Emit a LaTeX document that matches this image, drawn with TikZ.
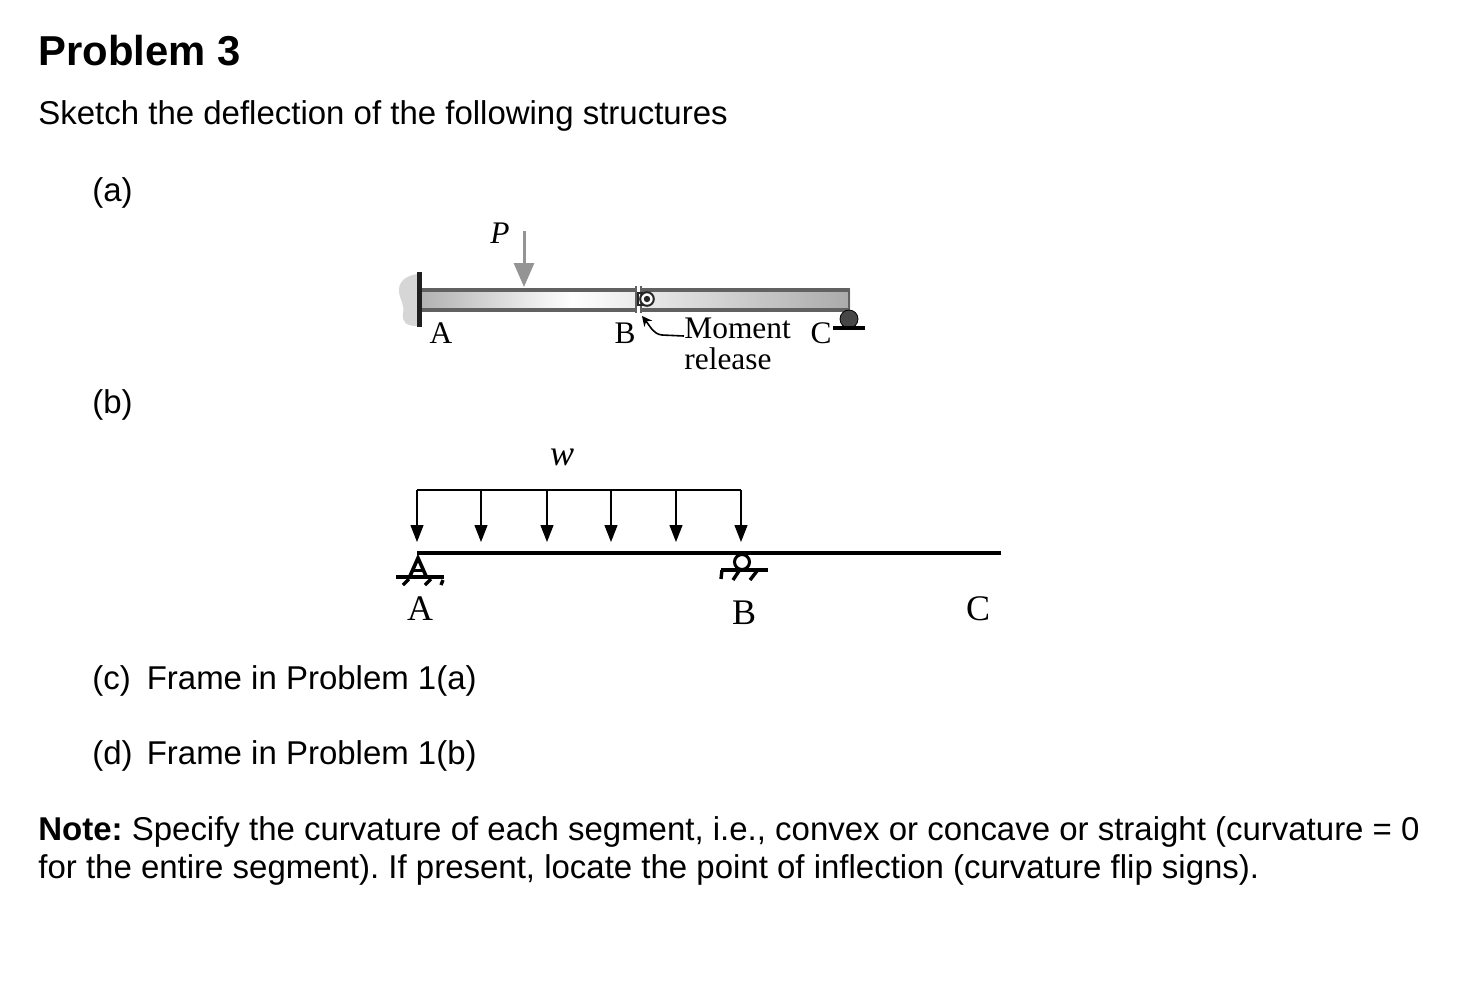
\documentclass[tikz,border=0pt]{standalone}
\usepackage{fontspec}
\setmainfont{Liberation Sans}
\newfontfamily\timesfont{Liberation Serif}
\usetikzlibrary{arrows.meta}
\frenchspacing
\tikzstyle{heading} = [anchor=base west, inner sep=0, font=\fontsize{20.9}{24}\selectfont\bfseries]
\tikzstyle{body} = [anchor=base west, inner sep=0, font=\fontsize{16.49}{20}\selectfont]
\tikzstyle{tag} = [inner sep=0, font=\timesfont\fontsize{18}{21}\selectfont]
\tikzstyle{smalltag} = [inner sep=0, font=\timesfont\fontsize{15.7}{18}\selectfont]
\tikzstyle{loadline} = [draw, line width=0.6pt, -{Triangle[length=8.5pt,width=6.5pt]}]
\tikzstyle{hatch} = [draw, line width=1.7pt]
\tikzstyle{stripe} = [draw=black!62, line width=1.7pt]
\begin{document}
\begin{tikzpicture}[x=0.5pt, y=-0.5pt]
	  \useasboundingbox (0,0) rectangle (1478,998);
	  % Text
	  \node [heading] (title) at (38,65) {Problem 3};
	  \node [body] (intro) at (38,124) {Sketch the deflection of the following structures};
	  \node [body] (parta) at (92,201) {(a)};
	  \node [body] (partb) at (92,413) {(b)};
	  \node [body] (partc) at (92,689) {\makebox[27.2pt][l]{(c)}Frame in Problem 1(a)};
	  \node [body] (partd) at (92,764) {\makebox[27.2pt][l]{(d)}Frame in Problem 1(b)};
	  \node [body] (notea) at (38,840) {\textbf{Note:} Specify the curvature of each segment, i.e., convex or concave or straight (curvature = 0};
	  \node [body] (noteb) at (38,878) {for the entire segment). If present, locate the point of inflection (curvature flip signs).};
	  % Beam (a)
	  \fill [black!16] (417,274) .. controls (405,276) and (398,282) .. (399,292) .. controls (400,300) and (405,305) .. (403,314) .. controls (402,322) and (406,326) .. (417,326) -- cycle;
	  \path [left color=black!30, right color=white] (422,290) rectangle (572,310);
	  \path [left color=white, right color=black!33] (572,290) rectangle (850,310);
	  \draw [stripe] (422,290) -- (850,290);
	  \draw [stripe] (422,310) -- (850,310);
	  \draw [black!62, line width=1.2pt] (849,288) -- (849,311);
	  \fill [black!88] (417,272) rectangle (422,327);
	  % Moment release
	  \fill [white] (636,286) rectangle (642,313);
	  \draw [black!62, line width=0.8pt] (636,286) -- (636,313);
	  \draw [black!62, line width=0.8pt] (641,286) -- (641,313);
	  \draw [black!85, line width=0.7pt] (638,293) rectangle (646,305);
	  \node [circle, draw=black!85, fill=white, line width=1pt, minimum size=6.8pt, inner sep=0] (hinge) at (647,299) {};
	  \fill [black!85] (hinge) circle (1.6pt);
	  % Support C
	  \node [circle, fill=black!72, draw=black, line width=0.4pt, minimum size=9pt, inner sep=0] (rollerC) at (849,319) {};
	  \draw [black, line width=1.7pt] (833,328) -- (865,328);
	  % Load P
	  \coordinate (Ptop) at (524,231);
	  \coordinate (Pend) at (524,287);
	  \path [draw=black!42, line width=1.5pt, -{Triangle[length=12pt,width=10pt]}] (Ptop) -- (Pend);
	  \node [smalltag] (P) at (500,233) {\itshape P};
	  % Labels (a)
	  \node [smalltag] (Aa) at (441,333) {A};
	  \node [smalltag] (Ba) at (625,333) {B};
	  \node [smalltag] (Ca) at (821,333) {C};
	  \node [smalltag, anchor=base west] (moment) at (684,338) {Moment};
	  \node [smalltag, anchor=base west] (release) at (684,369) {release};
	  \coordinate (releaseTip) at (642,316);
	  \draw [line width=0.8pt, -{Stealth[length=5pt,width=5pt]}] (moment.west |- 0,336) -- (662,335) .. controls (653,334) and (650,326) .. (releaseTip);
	  % Beam (b)
	  \coordinate (loadL) at (417,490);
	  \coordinate (loadR) at (741,490);
	  \draw [line width=0.6pt] (loadL) -- (loadR);
	  \node [tag] (w) at (562,457) {\itshape w};
	  \coordinate (t1) at (417,490);
	  \coordinate (t2) at (481,490);
	  \coordinate (t3) at (547,490);
	  \coordinate (t4) at (611,490);
	  \coordinate (t5) at (676,490);
	  \coordinate (t6) at (741,490);
	  \coordinate (e1) at (417,542);
	  \coordinate (e2) at (481,542);
	  \coordinate (e3) at (547,542);
	  \coordinate (e4) at (611,542);
	  \coordinate (e5) at (676,542);
	  \coordinate (e6) at (741,542);
	  \path [loadline] (t1) -- (e1);
	  \path [loadline] (t2) -- (e2);
	  \path [loadline] (t3) -- (e3);
	  \path [loadline] (t4) -- (e4);
	  \path [loadline] (t5) -- (e5);
	  \path [loadline] (t6) -- (e6);
	  \coordinate (beamL) at (417,553);
	  \coordinate (beamR) at (1001,553);
	  \draw [line width=2.1pt] (beamL) -- (beamR);
	  % Support A
	  \draw [line width=1.8pt, line join=miter] (410,576) -- (418,558) -- (426,576);
	  \draw [line width=1.5pt] (412,570) -- (424,570);
	  \draw [line width=2pt] (396,577) -- (444,577);
	  \draw [hatch] (409,579) -- (403,585);
	  \draw [hatch] (431,579) -- (425,585);
	  \draw [hatch] (443,580) -- (441,585);
	  % Support B
	  \node [circle, draw, line width=1.5pt, minimum size=7.5pt, inner sep=0] (rollerB) at (742,562) {};
	  \draw [line width=1.7pt] (721,570) -- (768,570);
	  \draw [hatch] (722,570) -- (721,579);
	  \draw [hatch] (739,571) -- (733,580);
	  \draw [hatch] (757,571) -- (750,580);
	  % Labels (b)
	  \node [tag] (Ab) at (420,609) {A};
	  \node [tag] (Bb) at (744,613) {B};
	  \node [tag] (Cb) at (978,609) {C};
\end{tikzpicture}
\end{document}
